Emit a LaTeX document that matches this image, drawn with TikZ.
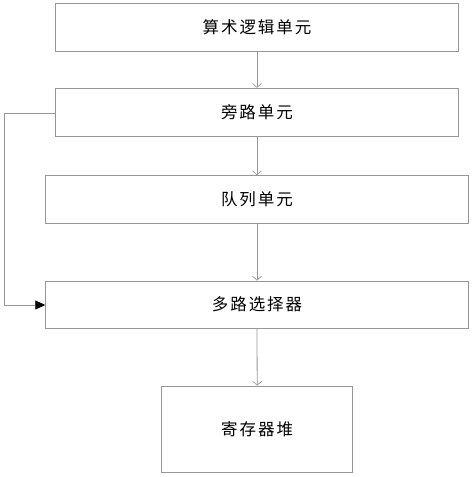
\documentclass[tikz,border=0pt]{standalone}
\usepackage{fontspec}
\newfontfamily\cjk[LetterSpace=12]{Noto Sans CJK SC}
\usetikzlibrary{arrows.meta}
\definecolor{ln}{RGB}{150,150,150}
\begin{document}
\begin{tikzpicture}[x=1pt,y=-1pt,
  blk/.style={draw=ln,line width=0.9pt,fill=white,font=\cjk\fontsize{16.5}{18}\selectfont,inner sep=0pt},
  conn/.style={draw=ln,line width=0.8pt,-{Straight Barb[length=4pt,width=9pt,line width=0.6pt]}},
  byp/.style={draw=ln,line width=0.8pt,-{Triangle[length=10pt,width=9pt,black]}}]
\useasboundingbox (0,0) rectangle (474,477);
\node[blk,minimum width=402.6pt,minimum height=47.7pt] (alu) at (257,27.2) {算术逻辑单元};
\node[blk,minimum width=402.6pt,minimum height=48.4pt] (byp) at (257,112.5) {旁路单元};
\node[blk,minimum width=422.6pt,minimum height=47.6pt] (que) at (257,199.5) {队列单元};
\node[blk,minimum width=422.6pt,minimum height=47.3pt] (mux) at (257,304.7) {多路选择器};
\node[blk,minimum width=191pt,minimum height=86.3pt] (reg) at (257.2,429.2) {寄存器堆};
\draw[conn] (alu.south) -- (byp.north);
\draw[conn] (byp.south) -- (que.north);
\draw[conn] (que.south) -- (mux.north);
\draw[conn] (mux.south) -- (reg.north);
\coordinate (c1) at (4,113.3);
\coordinate (c2) at (4,305);
\draw[byp] (byp.west |- c1) -- (c1) -- (c2) -- (mux.west |- c2);
\end{tikzpicture}
\end{document}
